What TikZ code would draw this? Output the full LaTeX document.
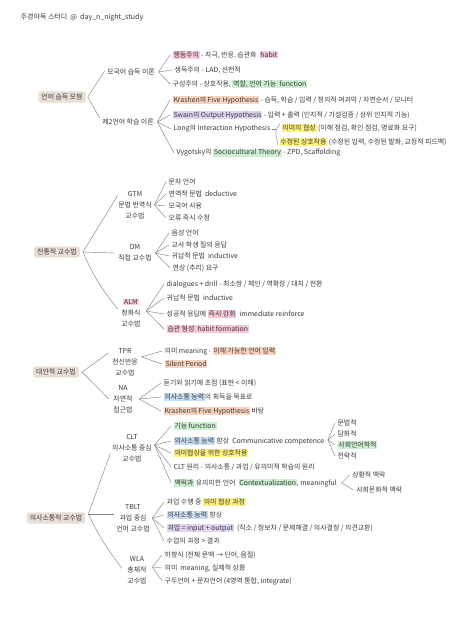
\documentclass[tikz,border=0pt]{standalone}
\usepackage{fontspec}
\setmainfont{Noto Sans CJK KR}
\usetikzlibrary{calc}
\definecolor{ink}{HTML}{3A3A3A}
\definecolor{lgray}{HTML}{858585}
\definecolor{hpink}{HTML}{F8C9D5}
\definecolor{hgreen}{HTML}{CDEFD1}
\definecolor{horange}{HTML}{FAD4C0}
\definecolor{hpurple}{HTML}{E1D4F1}
\definecolor{hyellow}{HTML}{FFF27C}
\definecolor{hblue}{HTML}{CBDFF4}
\definecolor{htan}{HTML}{E8DED4}
\newcommand{\hl}[2]{{\setlength{\fboxsep}{0.8pt}\colorbox{#1}{#2}}}
\begin{document}
\begin{tikzpicture}[x=1pt,y=-1pt,
  font=\fontsize{6.9}{11}\selectfont, text=ink,
  leaf/.style={anchor=west,inner sep=0.5pt},
  mid/.style={align=center,inner sep=0.5pt},
  root/.style={fill=htan,rounded corners=2.5pt,inner xsep=3pt,inner ysep=2.5pt},
  conn/.style={draw=lgray,line width=0.45pt}]
\fill[white] (0,0) rectangle (474,631);
\useasboundingbox (0,0) rectangle (474,631);

\node[leaf,font=\fontsize{7}{8}\selectfont] (title) at (20,17) {주경야독 스터디 \ @ \ day\_n\_night\_study};

% roots
\node[root] (r1) at (62,97) {언어 습득 모형};
\node[root] (r2) at (57,252) {전통적 교수법};
\node[root] (r3) at (56,372) {대안적 교수법};
\node[root] (r4) at (56,518) {의사소통적 교수법};

% mids
\node[mid] (m11) at (131,72) {모국어 습득 이론};
\node[mid] (m12) at (128,122) {제2언어 학습 이론};
\node[mid] (m21) at (135,205) {GTM\\문법 번역식\\교수법};
\node[mid] (m22) at (135,253) {DM\\직접 교수법};
\node[mid] (m23) at (131,313) {\hl{hpink}{ALM}\\청화식\\교수법};
\node[mid] (m31) at (125,362) {TPR\\전신반응\\교수법};
\node[mid] (m32) at (123,399) {NA\\자연적\\접근법};
\node[mid] (m41) at (132,448) {CLT\\의사소통 중심\\교수법};
\node[mid] (m42) at (133,518) {TBLT\\과업 중심\\언어 교수법};
\node[mid] (m43) at (137,570) {WLA\\총체적\\교수법};

\draw[conn] ($(r1.east)+(2,0)$) -- ($(m11.west)+(-2,-1)$);
\draw[conn] ($(r1.east)+(2,0)$) -- ($(m12.west)+(-2,-4)$);
\draw[conn] ($(r2.east)+(3,0)$) -- ($(m21.north west)+(0,5)$);
\draw[conn] ($(r2.east)+(3,0)$) -- ($(m22.west)+(-3,0)$);
\draw[conn] ($(r2.east)+(3,0)$) to[bend right=8] ($(m23.west)+(-3,-4)$);
\draw[conn] ($(r3.east)+(3,0)$) -- ($(m31.west)+(-3,-9)$);
\draw[conn] ($(r3.east)+(3,0)$) -- ($(m32.west)+(-4,0)$);
\draw[conn] ($(r4.east)+(3,-4)$) -- ($(m41.west)+(-1,5)$);
\draw[conn] ($(r4.east)+(3,-4)$) -- ($(m42.west)+(-2,-4)$);
\draw[conn] ($(r4.east)+(3,-4)$) to[bend right=6] ($(m43.west)+(-5,-2)$);

% leaves: 모국어
\node[leaf] (l111) at (172,55) {\hl{hpink}{행동주의} - 자극, 반응, 습관화 \ \hl{hpink}{habit}};
\node[leaf] (l112) at (174,70) {생득주의 - LAD, 선천적};
\node[leaf] (l113) at (172,84) {구성주의 - 상호작용, \hl{hgreen}{역할, 언어 기능 \ function}};
\foreach \l in {l111,l112,l113} \draw[conn] ($(m11.east)+(3,0)$) -- ($(\l.west)+(-2,0)$);

% 제2언어
\node[leaf] (l121) at (172,100) {\hl{horange}{Krashen의 Five Hypothesis} - 습득, 학습 / 입력 / 정의적 여과막 / 자연순서 / 모니터};
\node[leaf] (l122) at (172,115) {\hl{hpurple}{Swain의 Output Hypothesis} - 입력 + 출력 (인지적 / 가설검증 / 상위 인지적 기능)};
\node[leaf] (l123) at (173,129) {Long의 Interaction Hypothesis};
\node[leaf] (l124) at (176,153) {Vygotsky의 \hl{hgreen}{Sociocultural Theory} - ZPD, Scaffolding};
\foreach \l in {l121,l122,l123,l124} \draw[conn] ($(m12.east)+(3,0)$) -- ($(\l.west)+(-2,0)$);
\coordinate (lb) at ($(l123.east)+(5,0)$);
\node[leaf] (l1231) at ($(lb)+(5,-1)$) {\hl{hyellow}{의미의 협상} (이해 점검, 확인 점검, 명료화 요구)};
\node[leaf] (l1232) at ($(lb)+(3,13)$) {\hl{hyellow}{수정된 상호작용} (수정된 입력, 수정된 발화, 교정적 피드백)};
\draw[conn] ($(l123.east)+(1,0)$) -- (lb);
\draw[conn] ($(l1231.west)+(-1,-4)$) .. controls ($(lb)+(-1,2)$) .. ($(l1232.west)+(-1,3)$);

% GTM
\node[leaf] (l211) at (168,182) {문자 언어};
\node[leaf] (l212) at (168,194) {연역적 문법 \ deductive};
\node[leaf] (l213) at (168,206) {모국어 사용};
\node[leaf] (l214) at (168,218) {오류 즉시 수정};
\foreach \l in {l211,l212,l213,l214} \draw[conn] ($(m21.east)+(2,0)$) -- ($(\l.west)+(-2,0)$);

% DM
\node[leaf] (l221) at (171,233) {음성 언어};
\node[leaf] (l222) at (171,245) {교사 학생 질의 응답};
\node[leaf] (l223) at (171,256) {귀납적 문법 \ inductive};
\node[leaf] (l224) at (172,268) {연상 (추리) 요구};
\foreach \l in {l221,l222,l223,l224} \draw[conn] ($(m22.east)+(3,0)$) -- ($(\l.west)+(-2,0)$);

% ALM
\node[leaf] (l231) at (166,284) {dialogues + drill - 최소쌍 / 체인 / 역확장 / 대치 / 전환};
\node[leaf] (l232) at (166,298) {귀납적 문법 \ inductive};
\node[leaf] (l233) at (166,314) {성공적 응답에 \hl{hpink}{즉시 강화} \ immediate reinforce};
\node[leaf] (l234) at (166,329) {\hl{hpink}{습관 형성 \ habit formation}};
\foreach \l in {l231,l232,l233,l234} \draw[conn] ($(m23.east)+(5,-2)$) -- ($(\l.west)+(-2,0)$);

% TPR
\node[leaf] (l311) at (164,351) {의미 meaning - \hl{horange}{이해 가능한 언어 입력}};
\node[leaf] (l312) at (164,364) {\hl{horange}{Silent Period}};
\foreach \l in {l311,l312} \draw[conn] ($(m31.east)+(3,-5)$) -- ($(\l.west)+(-2,0)$);

% NA
\node[leaf] (l321) at (163,383) {듣기와 읽기에 초점 (표현 < 이해)};
\node[leaf] (l322) at (163,397) {\hl{hblue}{의사소통 능력}의 획득을 목표로};
\node[leaf] (l323) at (163,411) {\hl{horange}{Krashen의 Five Hypothesis} 바탕};
\foreach \l in {l321,l322,l323} \draw[conn] ($(m32.east)+(6,0)$) -- ($(\l.west)+(-2,0)$);

% CLT
\node[leaf] (l411) at (173,426) {\hl{hgreen}{기능 function}};
\node[leaf] (l412) at (173,441) {\hl{hblue}{의사소통 능력} 향상 \ Communicative competence};
\node[leaf] (l413) at (173,453) {\hl{hyellow}{의미협상을 위한 상호작용}};
\node[leaf] (l414) at (173,467) {CLT 원리 - 의사소통 / 과업 / 유의미적 학습의 원리};
\node[leaf] (l415) at (173,483) {\hl{hgreen}{맥락과} 유의미한 언어 \ \hl{hgreen}{Contextualization}, meaningful};
\foreach \l in {l411,l412,l413,l414,l415} \draw[conn] ($(m41.east)+(2,-3)$) -- ($(\l.west)+(-2,0)$);

\coordinate (cx) at ($(l412.east)+(12,0)$);
\node[leaf] (c1) at (cx |- 0,423) {문법적};
\node[leaf] (c2) at (cx |- 0,434) {담화적};
\node[leaf] (c3) at (cx |- 0,445) {\hl{hgreen}{사회언어학적}};
\node[leaf] (c4) at (cx |- 0,456) {전략적};
\foreach \l in {c1,c2,c3,c4} \draw[conn] ($(l412.east)+(3,-1)$) -- ($(\l.west)+(-2,0)$);

\coordinate (dx) at ($(l415.east)+(14,0)$);
\node[leaf] (d1) at (dx |- 0,475) {상황적 맥락};
\node[leaf] (d2) at ($(dx |- 0,490)+(4,0)$) {사회문화적 맥락};
\foreach \l in {d1,d2} \draw[conn] ($(l415.east)+(4,0)$) -- ($(\l.west)+(-2,0)$);

% TBLT
\node[leaf] (l421) at (166,502) {과업 수행 중 \hl{hyellow}{의미 협상 과정}};
\node[leaf] (l422) at (166,515) {\hl{hblue}{의사소통 능력} 향상};
\node[leaf] (l423) at (166,528) {\hl{hpurple}{과업 = input + output} \ (직소 / 정보차 / 문제해결 / 의사결정 / 의견교환)};
\node[leaf] (l424) at (166,541) {수업의 과정 > 결과};
\foreach \l in {l421,l422,l423,l424} \draw[conn] ($(m42.east)+(2,0)$) -- ($(\l.west)+(-2,0)$);

% WLA
\node[leaf] (l431) at (164,555) {하향식 (전체 문맥 → 단어, 음절)};
\node[leaf] (l432) at (164,568) {의미 \ meaning, 실제적 상황};
\node[leaf] (l433) at (164,581) {구두언어 + 문자언어 (4영역 통합, integrate)};
\foreach \l in {l431,l432,l433} \draw[conn] ($(m43.east)+(5,-3)$) -- ($(\l.west)+(-2,0)$);
\end{tikzpicture}
\end{document}
